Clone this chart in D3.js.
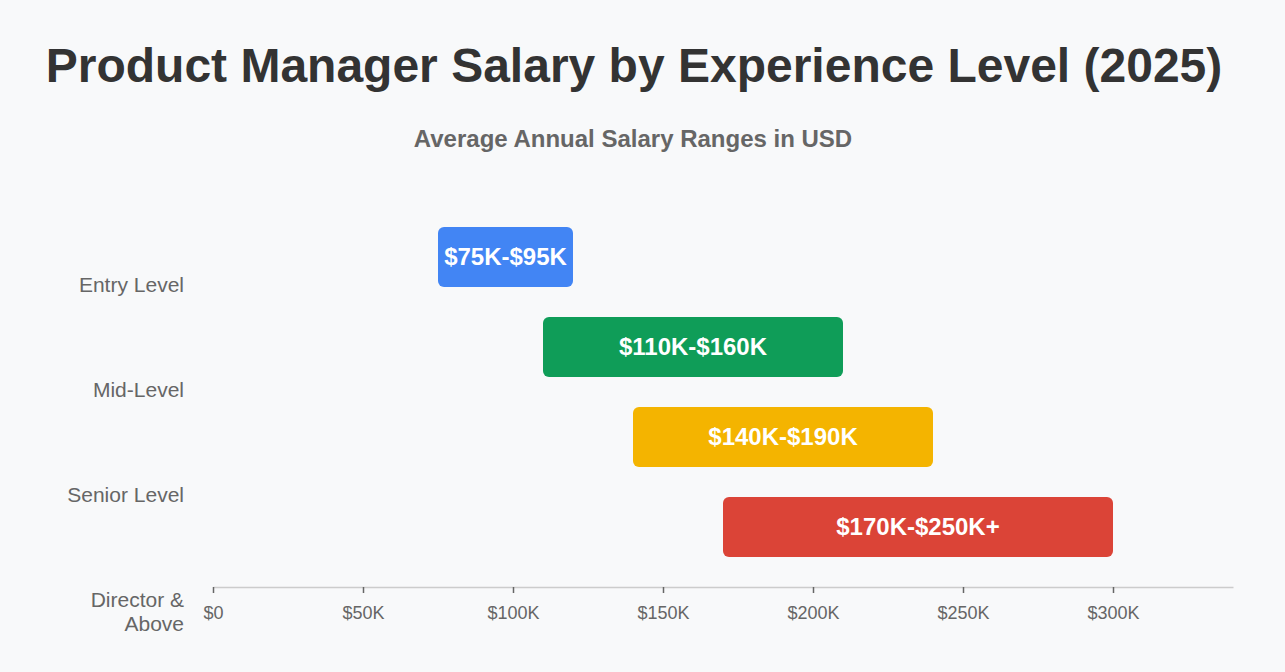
<!DOCTYPE html>
<html>
<head>
<meta charset="utf-8">
<script src="https://cdn.jsdelivr.net/npm/d3@7"></script>
<style>
   body { margin: 0; background: #f8f9fa; font-family: "Liberation Sans", Arial, sans-serif; }
   svg { display: block; }
</style>
</head>
<body>
<svg id="salaryChart"></svg>
<script>
// data
var levels = ["Entry Level", "Mid-Level", "Senior Level", "Director & Above"];
var barStart = [75000, 110000, 140000, 170000];
var barEnd = [120000, 210000, 240000, 300000];
var rangeLabels = ["$75K-$95K", "$110K-$160K", "$140K-$190K", "$170K-$250K+"];
var barColors = ["#4285f4", "#0f9d58", "#f4b400", "#db4437"];
var tickValues = [0, 50000, 100000, 150000, 200000, 250000, 300000];

var width = 1285, height = 672;
var margin = { top: 212, right: 52, bottom: 85, left: 213 };

var svg = d3.select("svg#salaryChart")
   .attr("width", width)
   .attr("height", height);

// title + subtitle
svg.append("text")
   .attr("x", 634)
   .attr("y", 82)
   .attr("text-anchor", "middle")
   .style("font-size", "48px")
   .style("font-weight", "bold")
   .style("fill", "#333")
   .text("Product Manager Salary by Experience Level (2025)");

svg.append("text")
   .attr("x", 633)
   .attr("y", 147)
   .attr("text-anchor", "middle")
   .style("font-size", "24px")
   .style("font-weight", "bold")
   .style("fill", "#666")
   .text("Average Annual Salary Ranges in USD");

var x = d3.scaleLinear()
   .domain([0, 340000])
   .range([margin.left, width - margin.right]);

// bars sit on their own band scale
var yBar = d3.scaleBand()
   .domain(levels)
   .range([margin.top, margin.top + 360])
   .paddingInner(1 / 3)
   .paddingOuter(1 / 6);

// category labels are spaced a bit wider than the bars
var yLabel = d3.scalePoint()
   .domain(levels)
   .range([285, 600]);

var data = levels.map(function (d, i) {
   return { level: d, start: barStart[i], end: barEnd[i], label: rangeLabels[i], color: barColors[i] };
});

// x axis
var xAxis = svg.append("g")
   .attr("transform", "translate(0," + (height - margin.bottom) + ")")
   .call(d3.axisBottom(x)
      .tickValues(tickValues)
      .tickSize(6)
      .tickSizeOuter(0)
      .tickPadding(13)
      .tickFormat(function (d) { return d === 0 ? "$0" : "$" + d / 1000 + "K"; }));
xAxis.select(".domain").attr("stroke", "#ccc").attr("stroke-width", 1.5);
xAxis.selectAll(".tick line").attr("stroke", "#666").attr("stroke-width", 1.5);
xAxis.selectAll(".tick text")
   .style("font-size", "18px")
   .style("fill", "#666")
   .style("font-family", "Liberation Sans, Arial, sans-serif");

// y labels
var labelGroup = svg.append("g");
labelGroup.selectAll("text")
   .data(levels)
   .enter()
   .append("text")
   .attr("x", margin.left - 29)
   .attr("y", function (d) { return yLabel(d); })
   .attr("text-anchor", "end")
   .style("font-size", "21px")
   .style("fill", "#666")
   .each(function (d) {
      var parts = d === "Director & Above" ? ["Director &", "Above"] : [d];
      var t = d3.select(this);
      parts.forEach(function (p, j) {
         t.append("tspan")
            .attr("x", margin.left - 29)
            .attr("dy", j === 0 ? "0.32em" : "1.15em")
            .text(p);
      });
   });

// bars
var bars = svg.append("g").selectAll("g")
   .data(data)
   .enter()
   .append("g");

bars.append("rect")
   .attr("x", function (d) { return x(d.start); })
   .attr("y", function (d) { return yBar(d.level); })
   .attr("width", function (d) { return x(d.end) - x(d.start); })
   .attr("height", yBar.bandwidth())
   .attr("rx", 6)
   .attr("fill", function (d) { return d.color; });

bars.append("text")
   .attr("x", function (d) { return (x(d.start) + x(d.end)) / 2; })
   .attr("y", function (d) { return yBar(d.level) + yBar.bandwidth() / 2; })
   .attr("dy", "0.35em")
   .attr("text-anchor", "middle")
   .style("font-size", "24px")
   .style("font-weight", "bold")
   .style("fill", "#fff")
   .text(function (d) { return d.label; });
</script>
</body>
</html>
